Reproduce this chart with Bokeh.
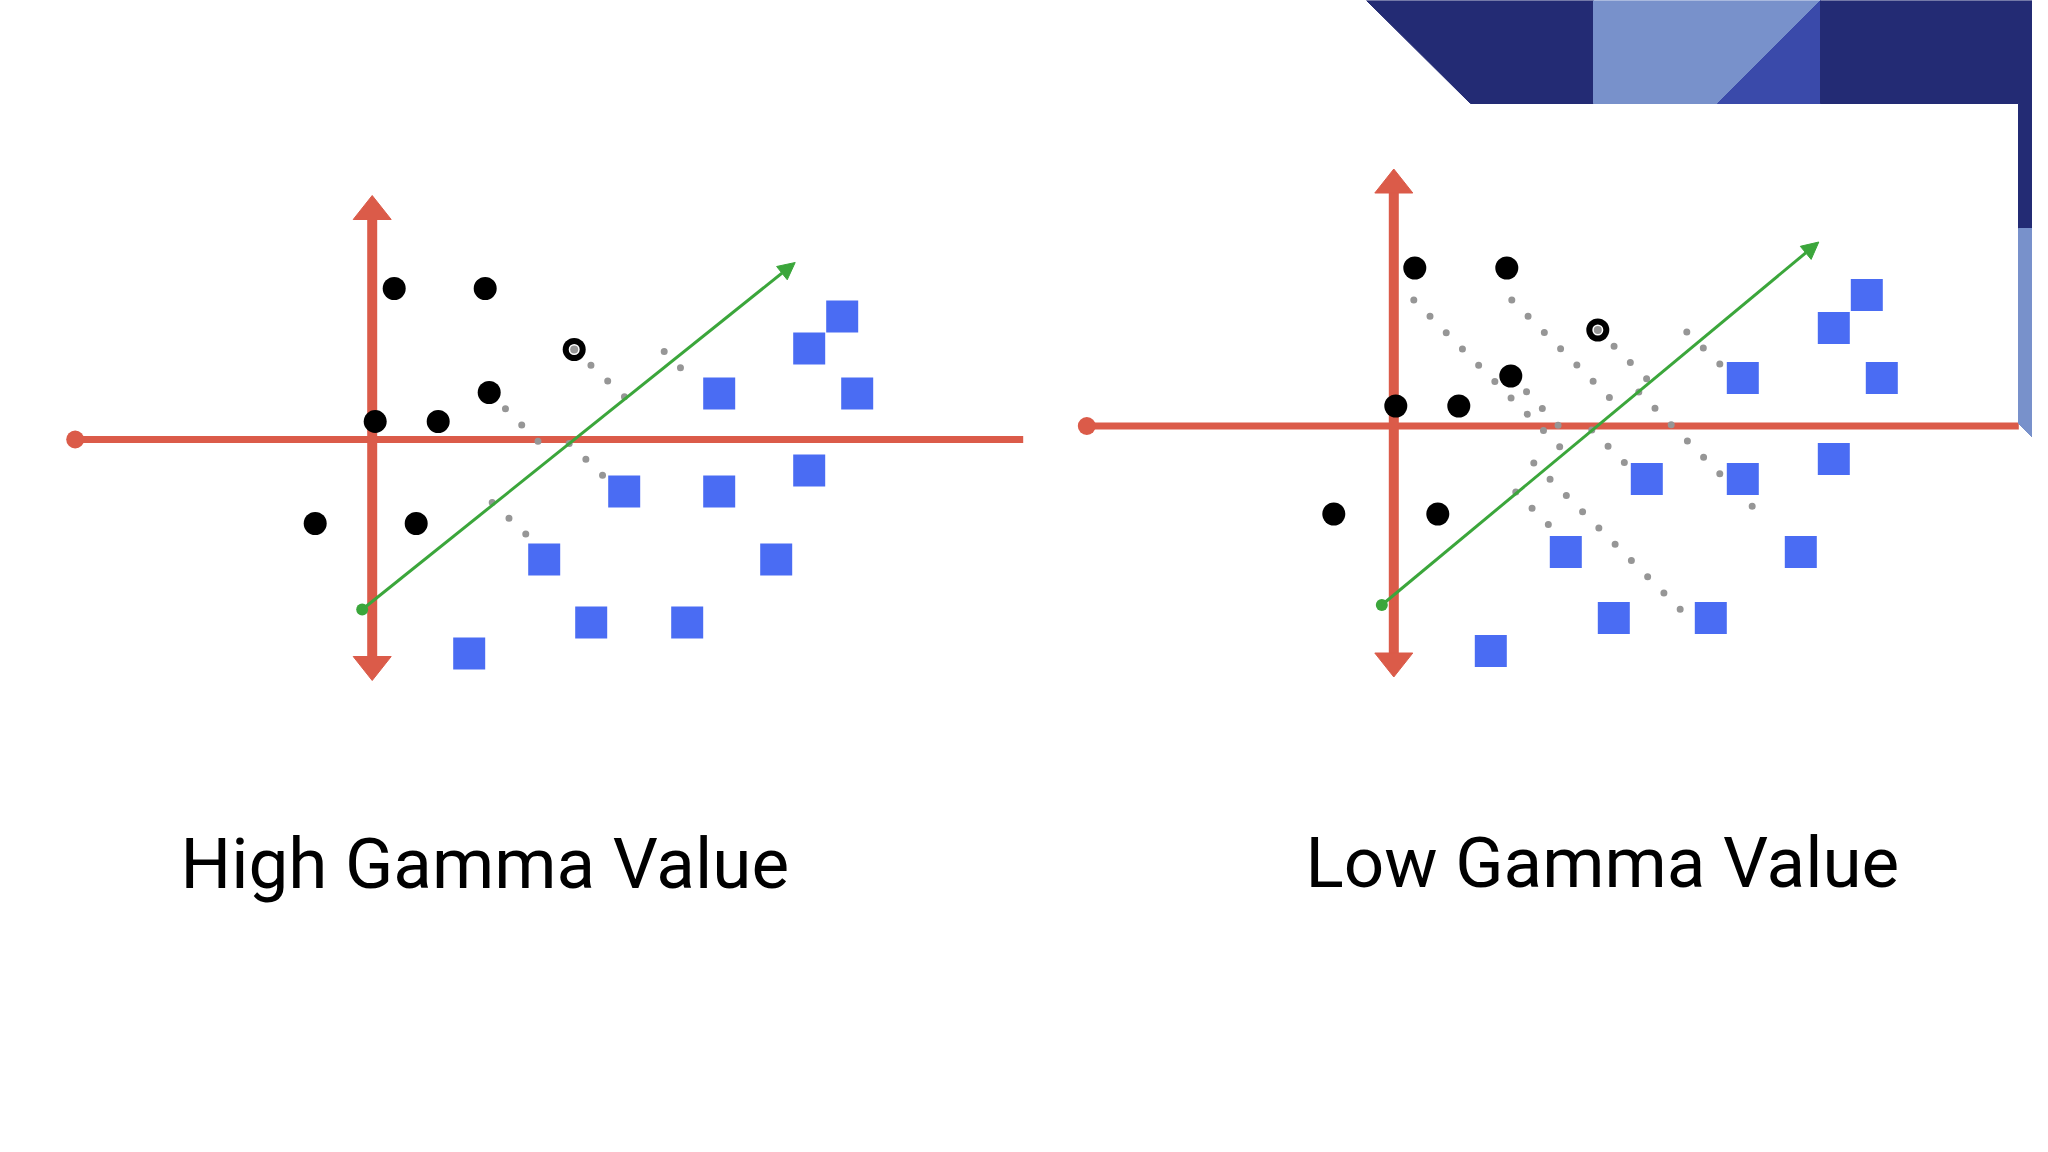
from bokeh.plotting import figure
from bokeh.models import Range1d, Arrow, NormalHead
from bokeh.core.properties import value
from bokeh.embed import file_html
from bokeh.resources import INLINE

# ---------------- data (panel units: origin at axis crossing, y up) ----------------
# High gamma panel
L_circle_x = [22, 113, 202, 117, 3, 66, -57, 44]
L_circle_y = [151, 151, 90, 47, 18, 18, -84, -84]
L_support_x = [202]
L_support_y = [90]
L_square_x = [470, 437, 347, 485, 437, 252, 347, 172, 404, 219, 315, 97]
L_square_y = [123, 91, 46, 46, -31, -52, -52, -120, -120, -183, -183, -214]
L_boundary = [-10, -170, 423, 177]          # x0, y0, x1, y1
L_dist_x0 = [202, 292, 117, 197, 120, 44]
L_dist_y0 = [90, 88, 47, -4, -63, -84]
L_dist_x1 = [253, 323, 168, 238, 168, 53]
L_dist_y1 = [42, 57, -4, -43, -108, -97]
L_xaxis = [-297, 651]
L_yaxis = [-241, 244]

# Low gamma panel
R_circle_x = [21, 113, 204, 117, 2, 65, -60, 44]
R_circle_y = [158, 158, 96, 50, 20, 20, -88, -88]
R_support_x = [204]
R_support_y = [96]
R_square_x = [473, 440, 349, 488, 440, 253, 349, 172, 407, 220, 317, 97]
R_square_y = [131, 98, 48, 48, -33, -53, -53, -126, -126, -192, -192, -225]
R_boundary = [-12, -179, 425, 184]
R_dist_x0 = [20, 117, 118, 198, 204, 245, 293, 140, 122, 44]
R_dist_y0 = [126, 51, 126, -4, 96, 34, 94, -37, -66, -88]
R_dist_x1 = [170, 180, 230, 240, 256, 368, 327, 290, 157, 52]
R_dist_y1 = [-25, -16, 14, -46, 44, -90, 61, -187, -101, -101]
R_xaxis = [-307, 625]
R_yaxis = [-251, 257]

titles = ["High Gamma Value", "Low Gamma Value"]

# ---------------- layout / style ----------------
W, H = 2032, 1136
PANEL_ORIGIN = {"L": (371.7, 439.0), "R": (1393.3, 425.5)}
TITLE_X = [180, 1305]
TITLE_Y = [863, 862]

RED = "#DB5B49"
GREEN = "#3BA63B"
BLUE = "#4A6CF3"
DOT = "#969696"
NAVY = "#232B74"
LIGHT = "#7891CB"
MID = "#3A4AAA"

# slide template decoration (page pixels)
deco_xs = [[1366, 1593, 1593, 1470],
           [1593, 1820, 1820, 1593],
           [1820, 1820, 1717],
           [1820, 2048, 2048, 2018, 2018, 1820],
           [2018, 2048, 2048, 2018]]
deco_ys = [[0, 0, 103, 103],
           [0, 0, 103, 103],
           [0, 103, 103],
           [0, 0, 228, 228, 103, 103],
           [228, 228, 453, 423]]
deco_colors = [NAVY, LIGHT, MID, NAVY, LIGHT]

p = figure(width=W, height=H, x_range=Range1d(0, W), y_range=Range1d(H, 0),
           output_backend="svg", toolbar_location=None, min_border=0)
p.axis.visible = False
p.grid.visible = False
p.outline_line_color = None
p.background_fill_color = "white"
p.border_fill_color = "white"

p.extra_x_ranges = {}
p.extra_y_ranges = {}
for k, (ox, oy) in PANEL_ORIGIN.items():
    p.extra_x_ranges[k] = Range1d(0 - ox, W - ox)
    p.extra_y_ranges[k] = Range1d(oy - H, oy)

HEAD_W, HEAD_L = 38, 24

panels = [
    ("L", L_circle_x, L_circle_y, L_support_x, L_support_y, L_square_x, L_square_y,
     L_boundary, L_dist_x0, L_dist_y0, L_dist_x1, L_dist_y1, L_xaxis, L_yaxis),
    ("R", R_circle_x, R_circle_y, R_support_x, R_support_y, R_square_x, R_square_y,
     R_boundary, R_dist_x0, R_dist_y0, R_dist_x1, R_dist_y1, R_xaxis, R_yaxis),
]

for (k, cx, cy, sx, sy, qx, qy, bd, dx0, dy0, dx1, dy1, xa, ya) in panels:
    kw = dict(x_range_name=k, y_range_name=k)
    # horizontal axis with round end
    p.segment(x0=[xa[0]], y0=[0], x1=[xa[1]], y1=[0], line_color=RED, line_width=7, **kw)
    p.scatter(x=[xa[0]], y=[0], size=18, marker="circle", fill_color=RED, line_color=None, **kw)
    # vertical axis with arrow heads
    p.segment(x0=[0], y0=[ya[0] + HEAD_L], x1=[0], y1=[ya[1] - HEAD_L],
              line_color=RED, line_width=10, **kw)
    p.patches(xs=[[-HEAD_W / 2, HEAD_W / 2, 0], [-HEAD_W / 2, HEAD_W / 2, 0]],
              ys=[[ya[1] - HEAD_L, ya[1] - HEAD_L, ya[1]], [ya[0] + HEAD_L, ya[0] + HEAD_L, ya[0]]],
              fill_color=RED, line_color=RED, line_width=1, **kw)
    # dotted distance lines
    p.segment(x0=dx0, y0=dy0, x1=dx1, y1=dy1, line_color=DOT, line_width=7,
              line_dash="0 23", line_cap="round", **kw)
    # decision boundary arrow
    p.add_layout(Arrow(end=NormalHead(size=17, fill_color=GREEN, line_color=GREEN),
                       x_start=bd[0], y_start=bd[1], x_end=bd[2], y_end=bd[3],
                       line_color=GREEN, line_width=3, x_range_name=k, y_range_name=k))
    p.scatter(x=[bd[0]], y=[bd[1]], size=12, marker="circle", fill_color=GREEN, line_color=None, **kw)
    # classes
    p.scatter(x=cx, y=cy, size=23, marker="circle", fill_color="black", line_color=None, **kw)
    p.scatter(x=sx, y=sy, size=11, marker="circle", fill_color="white", line_color=None, **kw)
    p.scatter(x=sx, y=sy, size=8, marker="circle", fill_color=DOT, line_color=None, **kw)
    p.scatter(x=qx, y=qy, size=32, marker="square", fill_color=BLUE, line_color=None, **kw)

# template decoration
p.patches(xs=deco_xs, ys=deco_ys, fill_color=deco_colors, line_color=deco_colors, line_width=1)

p.text(x=TITLE_X, y=TITLE_Y, text=titles, text_font=value("Roboto"), text_font_size="71px",
       text_color="#000000", text_baseline="alphabetic", text_align="left")

open("out.html", "w").write(file_html(p, INLINE))
